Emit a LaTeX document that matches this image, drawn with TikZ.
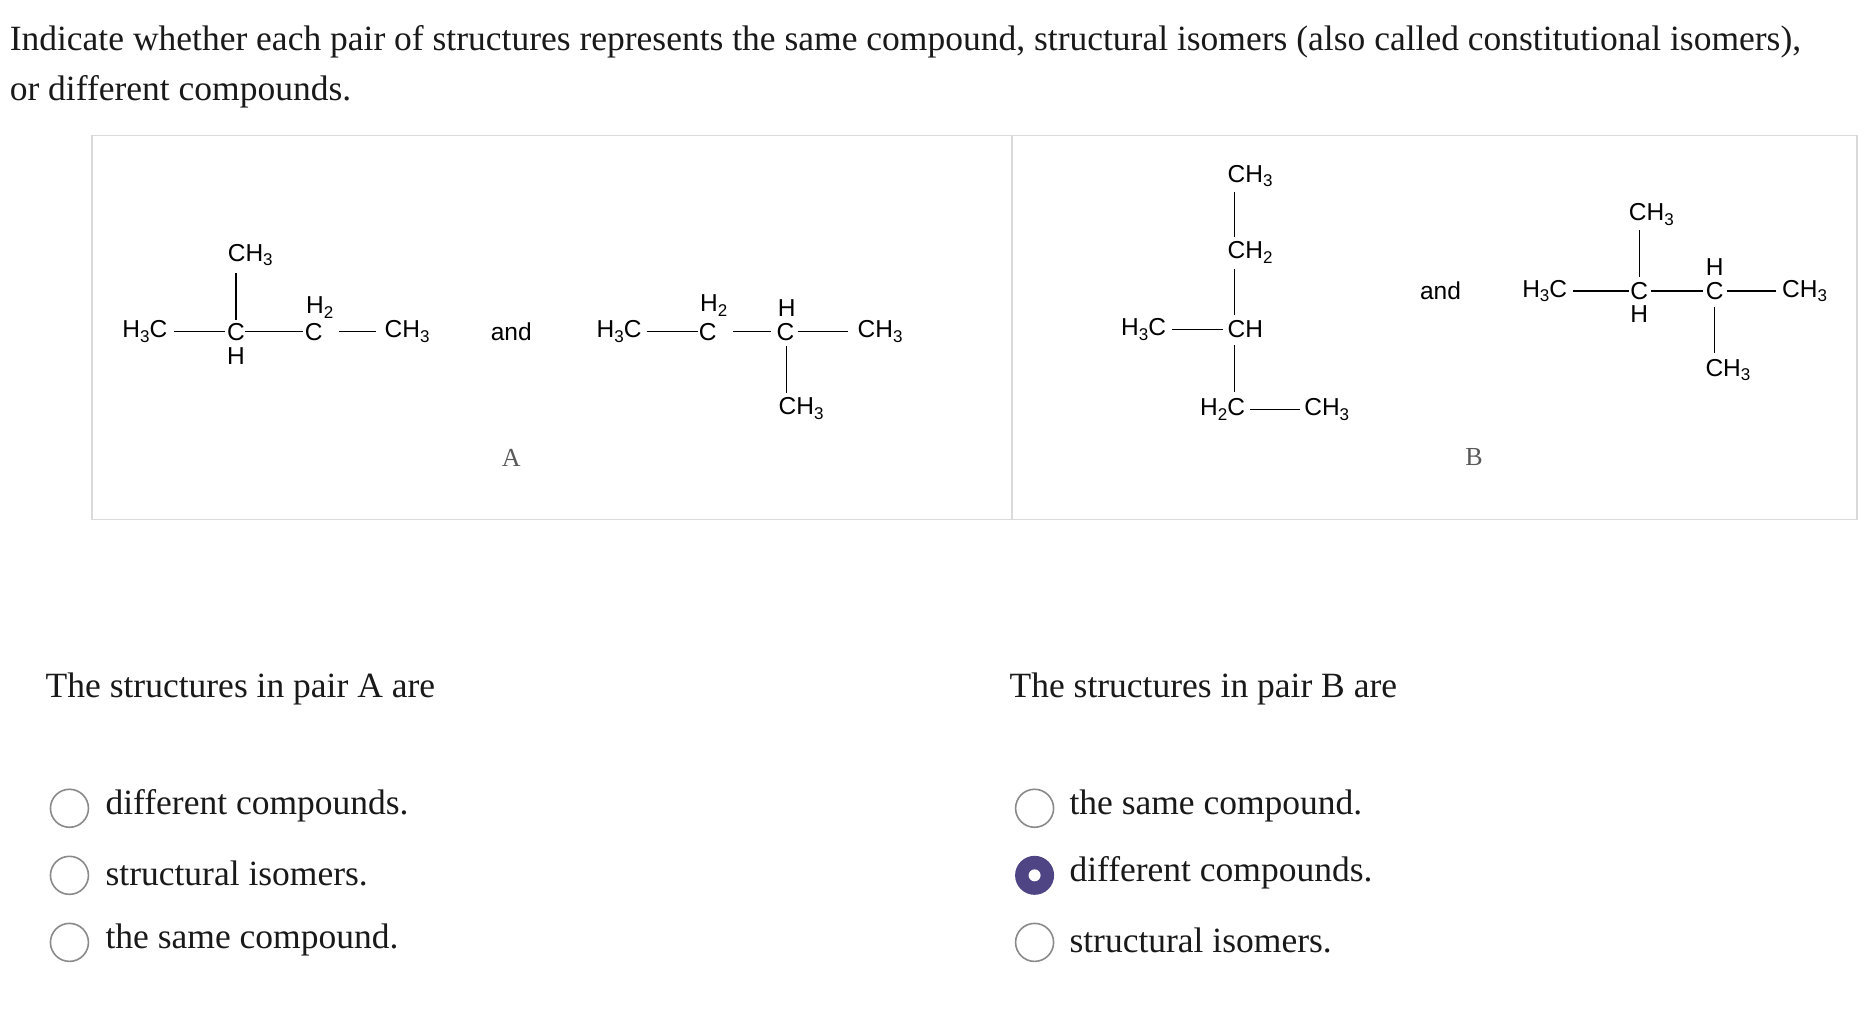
\documentclass[tikz,border=0pt]{standalone}
\usepackage{fontspec}
\setmainfont{Liberation Serif}
\newfontfamily\chem{Liberation Sans}
\definecolor{boxgray}{HTML}{DADADA}
\definecolor{radiogray}{HTML}{8A8A8A}
\definecolor{sel}{HTML}{4F4585}
\newcommand{\sub}[1]{\raisebox{-0.35ex}{\fontsize{17}{18}\selectfont #1}}
\begin{document}
\begin{tikzpicture}[x=1.1974pt,y=-1.1974pt,
  atm/.style={font=\chem\fontsize{24.5}{26}\selectfont, inner sep=0pt, text=black},
  bond/.style={line width=1.4pt},
  txt/.style={font=\fontsize{35.5}{40}\selectfont, inner sep=0pt, anchor=west, text=black!90},
  lbl/.style={font=\fontsize{26}{28}\selectfont, inner sep=0pt, text=black!65},
  radio/.style={circle, draw=radiogray, line width=1.6pt, minimum size=38pt, inner sep=0pt},
  radiosel/.style={circle, fill=sel, minimum size=39pt, inner sep=0pt}]
\useasboundingbox (0,0) rectangle (1560,850.2);
\node[txt, anchor=base west] (t1) at (8,42) {Indicate whether each pair of structures represents the same compound, structural isomers (also called constitutional isomers),};
\node[txt, anchor=base west] (t2) at (8,84) {or different compounds.};
\draw[boxgray, line width=1.5pt] (77,113) rectangle (1551,434);
\draw[boxgray, line width=1.5pt] (845,113) -- (845,434);
% Pair A, left
\node[atm] (a1) at (121,277) {H\sub{3}C};
\node[atm] (a2) at (197,277) {C};
\node[atm] (a2u) at (209,213) {CH\sub{3}};
\node[atm] (a2d) at (197,297) {H};
\node[atm] (a3) at (262,277) {C};
\node[atm] (a3h) at (267,257) {H\sub{2}};
\node[atm] (a4) at (340,277) {CH\sub{3}};
\draw[bond] (145,277) -- (188,277);
\draw[bond] (205,277) -- (253,277);
\draw[bond] (283,277) -- (314,277);
\draw[bond] (197,228) -- (197,267);
\node[atm] (and1) at (427,277) {and};
% Pair A, right
\node[atm] (b1) at (517,277) {H\sub{3}C};
\node[atm] (b2) at (591,277) {C};
\node[atm] (b2h) at (596,255) {H\sub{2}};
\node[atm] (b3) at (656,277) {C};
\node[atm] (b3h) at (657,257) {H};
\node[atm] (b4) at (735,277) {CH\sub{3}};
\node[atm] (b5) at (669,341) {CH\sub{3}};
\draw[bond] (540,277) -- (583,277);
\draw[bond] (612,277) -- (644,277);
\draw[bond] (666,277) -- (708,277);
\draw[bond] (657,289) -- (657,328);
\node[lbl] (la) at (427,382) {A};
% Pair B, left
\node[atm] (c1) at (1044,147) {CH\sub{3}};
\node[atm] (c2) at (1044,211) {CH\sub{2}};
\node[atm] (c3) at (1040,275) {CH};
\node[atm] (c3l) at (955,275) {H\sub{3}C};
\node[atm] (c4) at (1021,342) {H\sub{2}C};
\node[atm] (c5) at (1108,342) {CH\sub{3}};
\draw[bond] (1031,160) -- (1031,198);
\draw[bond] (1031,225) -- (1031,263);
\draw[bond] (979,275) -- (1021,275);
\draw[bond] (1031,288) -- (1031,327);
\draw[bond] (1044,342) -- (1086,342);
\node[atm] (and2) at (1203,243) {and};
% Pair B, right
\node[atm] (d1) at (1290,243) {H\sub{3}C};
\node[atm] (d2) at (1369,243) {C};
\node[atm] (d2d) at (1369,262) {H};
\node[atm] (d2u) at (1379,179) {CH\sub{3}};
\node[atm] (d3) at (1432,243) {C};
\node[atm] (d3u) at (1432,223) {H};
\node[atm] (d4) at (1507,243) {CH\sub{3}};
\node[atm] (d5) at (1443,309) {CH\sub{3}};
\draw[bond] (1314,243) -- (1360,243);
\draw[bond] (1379,243) -- (1422,243);
\draw[bond] (1442,243) -- (1483,243);
\draw[bond] (1369,192) -- (1369,231);
\draw[bond] (1432,256) -- (1432,295);
\node[lbl] (lb) at (1231,382) {B};
% Questions
\node[txt] (qa) at (38,575) {The structures in pair A are};
\node[txt] (qb) at (843,575) {The structures in pair B are};
\node[radio] (ra1) at (58,675) {};
\node[radio] (ra2) at (58,731) {};
\node[radio] (ra3) at (58,787) {};
\node[txt] (oa1) at (88,673) {different compounds.};
\node[txt] (oa2) at (88,729) {structural isomers.};
\node[txt] (oa3) at (88,785) {the same compound.};
\node[radio] (rb1) at (864,675) {};
\node[radiosel] (rb2) at (864,731) {};
\fill[white] (rb2.center) circle (5);
\node[radio] (rb3) at (864,787) {};
\node[txt] (ob1) at (893,673) {the same compound.};
\node[txt] (ob2) at (893,729) {different compounds.};
\node[txt] (ob3) at (893,785) {structural isomers.};
\end{tikzpicture}
\end{document}
